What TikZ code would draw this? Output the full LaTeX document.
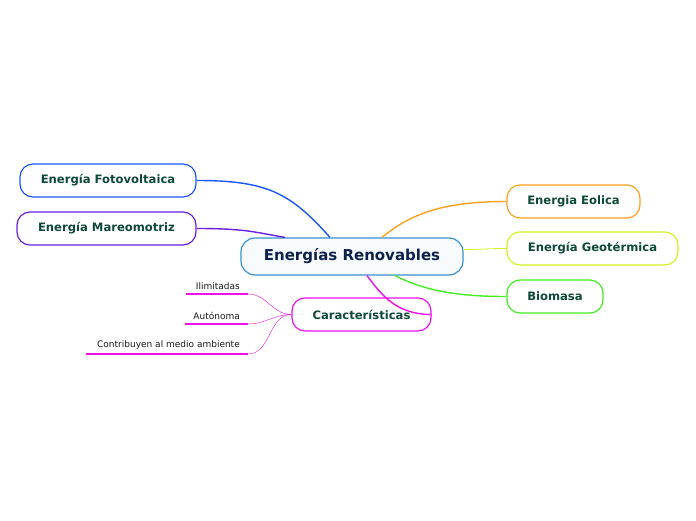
\documentclass[tikz,border=0pt]{standalone}
\usepackage{fontspec}
\setmainfont{DejaVu Sans}
\usepackage{tikz}
\usepackage{xcolor}
\definecolor{hubblue}{RGB}{58,143,208}
\definecolor{hubtext}{RGB}{12,32,78}
\definecolor{leaftext}{RGB}{14,72,56}
\definecolor{fotoblue}{RGB}{26,86,255}
\definecolor{mareopurple}{RGB}{106,30,230}
\definecolor{eolorange}{RGB}{255,160,32}
\definecolor{geoyellow}{RGB}{212,240,32}
\definecolor{biogreen}{RGB}{68,238,34}
\definecolor{carmagenta}{RGB}{238,16,238}
\usetikzlibrary{positioning}
\tikzset{
	hub/.style={draw=hubblue,line width=1.2pt,fill=hubblue!4,rounded corners=14pt,
		minimum width=222pt,minimum height=37pt,text=hubtext,
		font=\fontsize{15}{18}\selectfont\bfseries},
	leaf/.style={draw=#1,line width=1.2pt,fill=white,rounded corners=13pt,
		minimum height=33pt,text=leaftext,font=\fontsize{11.6}{14}\selectfont\bfseries},
	sub/.style={anchor=south east,inner sep=1pt,text=black!90,font=\fontsize{9}{11}\selectfont},
	branch/.style={#1,line width=1.4pt},
	twig/.style={carmagenta,line width=0.4pt},
	underline/.style={carmagenta,line width=2pt}
}
\begin{document}
\begin{tikzpicture}[x=1pt,y=1pt]
	\useasboundingbox (0,0) rectangle (696,520);
	\coordinate[] (centre) at (352,263.5);
	\coordinate[] (n1) at (108,339.5);
	\coordinate[] (n2) at (106.5,291.5);
	\coordinate[] (n3) at (573.5,318.5);
	\coordinate[] (n4) at (592.5,271.5);
	\coordinate[] (n5) at (555,223.5);
	\coordinate[] (n6) at (361.5,205.5);
	
	\node at (centre)[hub](renov){Energías Renovables};
	\node at (n1)[leaf=fotoblue,minimum width=176pt](foto){Energía Fotovoltaica};
	\node at (n2)[leaf=mareopurple,minimum width=179pt](mareo){Energía Mareomotriz};
	\node at (n3)[leaf=eolorange,minimum width=133pt](eolica){Energia Eolica};
	\node at (n4)[leaf=geoyellow,minimum width=171pt](geo){Energía Geotérmica};
	\node at (n5)[leaf=biogreen,minimum width=96pt](bio){Biomasa};
	\node at (n6)[leaf=carmagenta,minimum width=139pt](carac){Características};
	
	% sub items of Caracteristicas
	\coordinate[] (s1a) at (186,226);
	\coordinate[] (s1b) at (248,226);
	\coordinate[] (s2a) at (185,196);
	\coordinate[] (s2b) at (248,196);
	\coordinate[] (s3a) at (86,166);
	\coordinate[] (s3b) at (248,166);
	\node at ([xshift=-7pt,yshift=3pt]s1b)[sub](ilim){Ilimitadas};
	\node at ([xshift=-7pt,yshift=3pt]s2b)[sub](auto){Autónoma};
	\node at ([xshift=-7pt,yshift=3pt]s3b)[sub](contrib){Contribuyen al medio ambiente};
	\draw[underline](s1a)--(s1b);
	\draw[underline](s2a)--(s2b);
	\draw[underline](s3a)--(s3b);
	
	\draw[branch=fotoblue](foto.east) .. controls +(70,0) and +(-40,45) .. ([xshift=-22pt]renov.north);
	\draw[branch=mareopurple](mareo.east) .. controls +(50,0) and +(-30,5) .. ([xshift=-67pt]renov.north);
	\draw[branch=eolorange](eolica.west) .. controls +(-60,0) and +(30,25) .. ([xshift=30pt]renov.north);
	\draw[branch=geoyellow,line width=0.8pt](geo.west) .. controls +(-20,0) and +(20,0) .. ([yshift=7pt]renov.east);
	\draw[branch=biogreen](bio.west) .. controls +(-50,0) and +(30,-15) .. ([xshift=43pt]renov.south);
	\draw[branch=carmagenta](carac.east) .. controls +(-35,0) and +(15,-20) .. ([xshift=15pt]renov.south);
	
	\draw[twig](carac.west) to[out=180,in=0] (s1b);
	\draw[twig](carac.west) to[out=180,in=0] (s2b);
	\draw[twig](carac.west) to[out=180,in=0] (s3b);
\end{tikzpicture}
\end{document}
